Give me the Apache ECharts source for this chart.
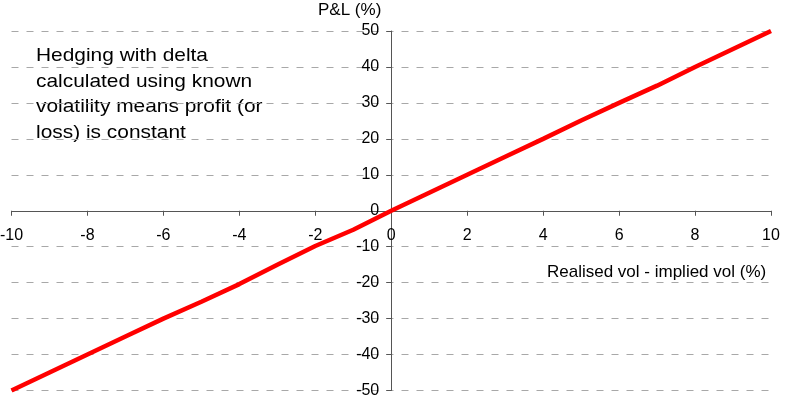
<!DOCTYPE html>
<html>
<head>
<meta charset="utf-8">
<script src="https://cdn.jsdelivr.net/npm/echarts@6/dist/echarts.min.js"></script>
<style>html,body{margin:0;padding:0;background:#fff;}#c{width:789px;height:403px;}</style>
</head>
<body>
<div id="c"></div>
<script>
const xValues = [-10,-9,-8,-7,-6,-5,-4,-3,-2,-1,0,1,2,3,4,5,6,7,8,9,10];
const pnlValues = [-50,-45,-40,-35,-30,-25.3,-20.4,-15,-9.8,-5.3,0,5,10,15,20,25.1,30,34.8,40,45,50];
const xAxisName = "Realised vol - implied vol (%)";
const yAxisName = "P&L (%)";
const noteLines = ["Hedging with delta","calculated using known","volatility means profit (or","loss) is constant"];

const FONT = "Liberation Sans, Arial, sans-serif";
const W = 789, H = 403;
const G = {left:11.5, right:18, top:31, bottom:12.5};
const plotW = W - G.left - G.right, plotH = H - G.top - G.bottom;
const xMin = -10, xMax = 10, yMin = -50, yMax = 50;
const yAxisOffset = -((0 - xMin) / (xMax - xMin)) * plotW;
const xAxisOffset = -((0 - yMin) / (yMax - yMin)) * plotH;

const chart = echarts.init(document.getElementById('c'), null, {renderer:'canvas'});
const noteGraphics = noteLines.map((t,i)=>({
  type:'text', x:36, y:55.4 + i*25.9, scaleX:1.1,
  style:{text:t, font:'19px ' + FONT, fill:'#000', verticalAlign:'middle', align:'left'}
}));
chart.setOption({
  animation:false,
  grid:{left:G.left, right:G.right, top:G.top, bottom:G.bottom, containLabel:false, outerBoundsMode:'none'},
  xAxis:{
    type:'value', min:xMin, max:xMax, interval:2, position:'bottom', offset:xAxisOffset,
    axisLine:{onZero:false, lineStyle:{color:'#555', width:1}},
    axisTick:{show:true, length:5, lineStyle:{color:'#555'}},
    axisLabel:{fontSize:16, color:'#000', fontFamily:FONT, margin:17, showMinLabel:true, showMaxLabel:true, hideOverlap:false},
    splitLine:{show:false}
  },
  yAxis:{
    type:'value', min:yMin, max:yMax, interval:10, position:'left', offset:yAxisOffset,
    axisLine:{show:true, onZero:false, lineStyle:{color:'#555', width:1}},
    axisTick:{show:true, length:5, lineStyle:{color:'#555'}},
    axisLabel:{fontSize:16, color:'#000', fontFamily:FONT, margin:12, showMinLabel:true, showMaxLabel:true, hideOverlap:false},
    splitLine:{show:true, lineStyle:{color:'#a8a8a8', type:[7,8], width:1}}
  },
  series:[{
    type:'line', data:xValues.map((x,i)=>[x,pnlValues[i]]),
    showSymbol:false, symbol:'none',
    lineStyle:{color:'#ff0000', width:4.5}, z:5
  }],
  graphic:[
    ...noteGraphics,
    {type:'text', x:547, y:272, style:{text:xAxisName, font:'17px ' + FONT, fill:'#000', verticalAlign:'middle'}},
    {type:'text', x:318, y:10.5, style:{text:yAxisName, font:'17px ' + FONT, fill:'#000', verticalAlign:'middle'}}
  ]
});
</script>
</body>
</html>
